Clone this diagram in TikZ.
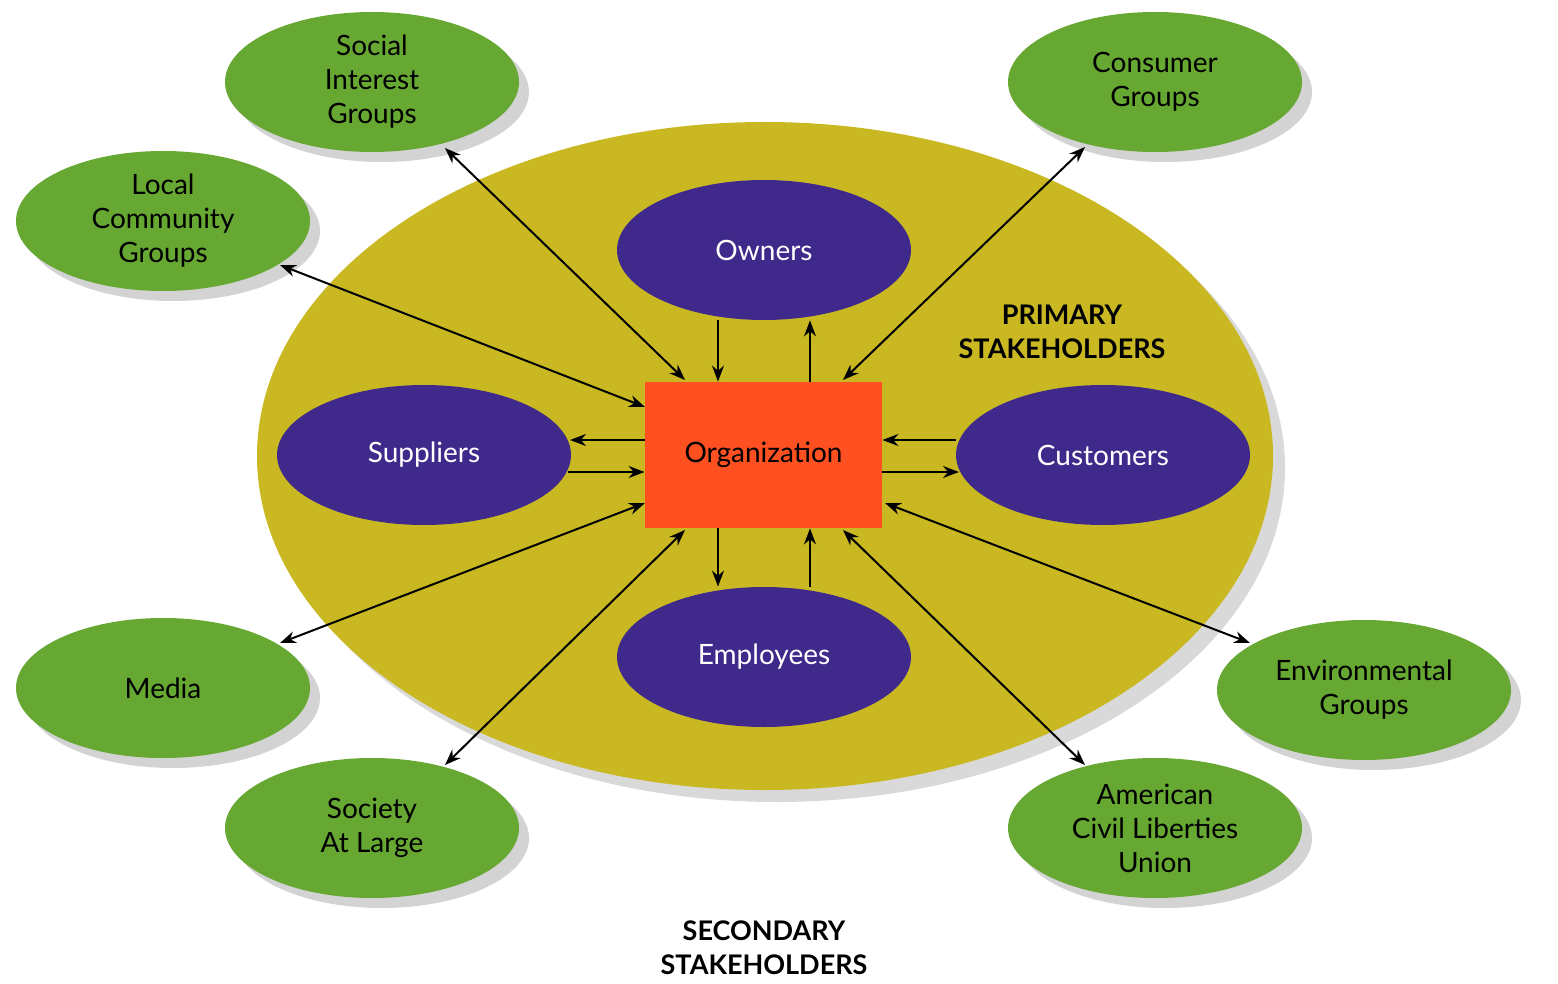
\documentclass[tikz,border=0pt]{standalone}
\usepackage{fontspec}
\setmainfont{Lato}
\usetikzlibrary{shadows,arrows.meta,shapes.geometric}
\definecolor{yel}{HTML}{C9B822}
\definecolor{blu}{HTML}{3F2A8C}
\definecolor{grn}{HTML}{66A832}
\definecolor{org}{HTML}{FF5022}
\tikzset{
 prim/.style={ellipse,fill=blu,minimum width=147pt,minimum height=70pt,text=white,font=\fontsize{14}{17}\selectfont,align=center,inner sep=0pt},
 sec/.style={ellipse,fill=grn,minimum width=147pt,minimum height=70pt,text=black,font=\fontsize{14}{17}\selectfont,align=center,inner sep=0pt,drop shadow={shadow xshift=5pt,shadow yshift=-5pt,opacity=0.35}},
 arr/.style={-{Stealth[length=8pt,width=6pt]},line width=1pt},
 darr/.style={{Stealth[length=8pt,width=6pt]}-{Stealth[length=8pt,width=6pt]},line width=1pt},
 lbl/.style={font=\bfseries\fontsize{13.5}{17}\selectfont,align=center}
}
\begin{document}
\begin{tikzpicture}[x=0.5pt,y=-0.5pt]
\useasboundingbox (0,0) rectangle (1558,984);
\fill[yel,drop shadow={shadow xshift=6pt,shadow yshift=-6pt,opacity=0.3}] (765,456) ellipse [x radius=508,y radius=334];
\node[prim] (own) at (764,250) {Owners};
\node[prim] (sup) at (424,455) {Suppliers};
\node[prim] (cus) at (1103,455) {Customers};
\node[prim] (emp) at (764,657) {Employees};
\node[fill=org,minimum width=118.5pt,minimum height=73pt,inner sep=0pt,font=\fontsize{14}{17}\selectfont] (o) at (763.5,455) {Organization};
\node[sec] (soc) at (372,82) {Social\\Interest\\Groups};
\node[sec] (loc) at (163,221) {Local\\Community\\Groups};
\node[sec] (con) at (1155,82) {Consumer\\Groups};
\node[sec] (med) at (163,688) {Media};
\node[sec] (sal) at (372,828) {Society\\At Large};
\node[sec] (env) at (1364,690) {Environmental\\Groups};
\node[sec] (acl) at (1155,828) {American\\Civil Liberties\\Union};
\node[lbl] (pl) at (1062,332) {PRIMARY\\STAKEHOLDERS};
\node[lbl] (sl) at (764,948) {SECONDARY\\STAKEHOLDERS};
% primary arrows
\draw[arr] (own.south -| 718,0) -- (o.north -| 718,0);
\draw[arr] (o.north -| 810,0) -- (own.south -| 810,0);
\draw[arr] (emp.north -| 810,0) -- (o.south -| 810,0);
\draw[arr] (o.south -| 718,0) -- (emp.north -| 718,0);
\draw[arr] (o.west |- 0,440) -- (570,440);
\draw[arr] (568,472) -- (o.west |- 0,472);
\draw[arr] (cus.west |- 0,440) -- (o.east |- 0,440);
\draw[arr] (o.east |- 0,472) -- (959,472);
% secondary
\coordinate (a1) at (445,148); \coordinate (b1) at (685,380);
\coordinate (a2) at (280,265); \coordinate (b2) at (645,407);
\coordinate (a3) at (1085,147); \coordinate (b3) at (843,380);
\coordinate (a4) at (280,643); \coordinate (b4) at (645,503);
\coordinate (a5) at (445,765); \coordinate (b5) at (685,530);
\coordinate (a6) at (1250,643); \coordinate (b6) at (885,503);
\coordinate (a7) at (1085,765); \coordinate (b7) at (843,530);
\foreach \i in {1,...,7} \draw[darr] (a\i) -- (b\i);
\end{tikzpicture}
\end{document}
